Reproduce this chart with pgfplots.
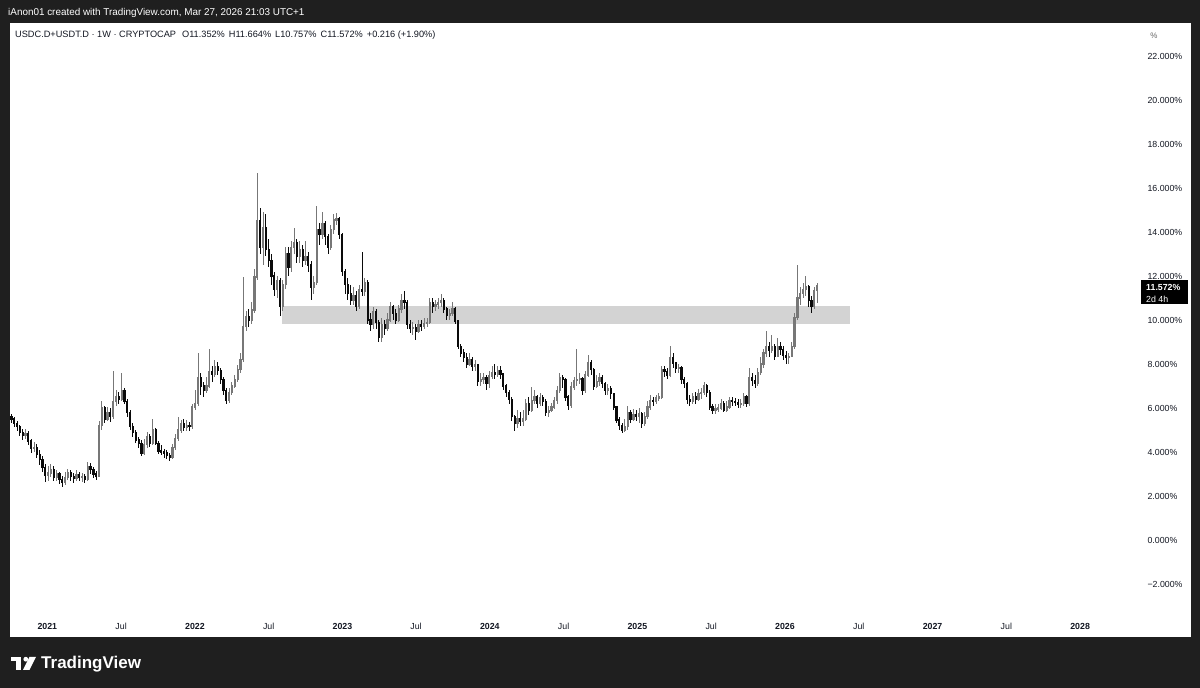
\documentclass[border=0pt]{standalone}
\usepackage{pgfplots}
\usepackage{pgfplotstable}
\pgfplotsset{compat=1.18}
\usepackage{fontspec}
\setmainfont{Liberation Sans}
\definecolor{frame}{HTML}{1F1F1F}
\definecolor{upc}{HTML}{777777}
\definecolor{dnc}{HTML}{0A0A0A}
\definecolor{zone}{HTML}{D3D3D3}
\definecolor{txt}{HTML}{131722}

\pgfplotstableread{
i o h l c
0 5.60 5.75 5.30 5.50
1 5.50 5.60 5.15 5.30
2 5.30 5.40 4.95 5.15
3 5.15 5.25 4.75 4.90
4 4.90 5.05 4.55 4.75
5 4.75 5.05 4.60 4.85
6 4.85 4.95 4.30 4.50
7 4.50 4.60 3.95 4.15
8 4.15 4.45 4.00 4.20
9 4.20 4.35 3.75 3.90
10 3.90 4.10 3.40 3.65
11 3.65 3.80 3.10 3.30
12 3.30 3.45 2.65 2.95
13 2.95 3.35 2.70 3.05
14 3.05 3.45 2.85 3.20
15 3.20 3.35 2.70 2.85
16 2.85 3.20 2.70 3.00
17 3.00 3.10 2.55 2.75
18 2.75 2.90 2.40 2.60
19 2.60 3.10 2.50 2.85
20 2.85 3.25 2.75 3.05
21 3.05 3.20 2.70 2.90
22 2.90 3.05 2.60 2.80
23 2.80 3.20 2.70 2.95
24 2.95 3.10 2.70 2.85
25 2.85 3.05 2.65 2.90
26 2.90 3.00 2.60 2.75
27 2.75 3.55 2.70 3.35
28 3.35 3.50 3.00 3.20
29 3.20 3.30 2.80 3.00
30 3.00 3.15 2.75 2.90
31 2.90 5.40 2.85 5.20
32 5.20 6.30 5.00 6.00
33 6.00 6.10 5.30 5.50
34 5.50 6.05 5.40 5.80
35 5.80 6.00 5.35 5.60
36 5.60 7.70 5.50 6.30
37 6.30 6.80 6.10 6.50
38 6.50 6.75 6.20 6.40
39 6.40 7.60 6.30 6.80
40 6.80 6.90 6.20 6.30
41 6.30 6.40 5.60 5.80
42 5.80 5.90 5.00 5.15
43 5.15 5.30 4.70 4.90
44 4.90 5.00 4.40 4.55
45 4.55 4.70 4.20 4.40
46 4.40 4.55 3.80 3.95
47 3.95 4.60 3.85 4.35
48 4.35 4.90 4.20 4.70
49 4.70 4.80 4.25 4.40
50 4.40 5.50 4.30 5.00
51 5.00 5.10 4.30 4.40
52 4.40 4.50 3.90 4.05
53 4.05 4.30 3.85 4.00
54 4.00 4.15 3.75 3.95
55 3.95 4.10 3.70 3.85
56 3.85 3.95 3.60 3.75
57 3.75 4.35 3.70 4.20
58 4.20 4.80 4.10 4.60
59 4.60 5.60 4.50 5.00
60 5.00 5.45 4.85 5.30
61 5.30 5.50 4.95 5.10
62 5.10 5.45 4.95 5.20
63 5.20 5.35 4.95 5.15
64 5.15 6.20 5.05 6.05
65 6.05 6.80 5.90 6.20
66 6.20 8.50 6.10 7.40
67 7.40 7.60 6.60 7.00
68 7.00 7.20 6.50 6.80
69 6.80 7.40 6.70 7.00
70 7.00 8.70 6.90 7.65
71 7.65 7.90 7.20 7.55
72 7.55 8.20 7.40 7.90
73 7.90 8.10 7.50 7.70
74 7.70 7.80 7.10 7.30
75 7.30 7.40 6.60 6.80
76 6.80 6.90 6.20 6.35
77 6.35 6.90 6.25 6.70
78 6.70 7.20 6.60 7.00
79 7.00 7.50 6.90 7.30
80 7.30 7.95 7.20 7.75
81 7.75 8.50 7.60 8.20
82 8.20 11.97 8.10 9.70
83 9.70 10.40 9.50 10.15
84 10.15 10.50 9.70 10.00
85 10.00 10.80 9.80 10.45
86 10.45 12.30 10.30 11.95
87 11.95 16.70 11.80 14.50
88 14.50 15.10 13.00 13.30
89 13.30 14.90 12.50 14.20
90 14.20 14.80 12.90 13.20
91 13.20 13.70 12.40 12.70
92 12.70 13.00 11.60 12.00
93 12.00 12.20 11.10 11.40
94 11.40 12.00 11.00 11.80
95 11.80 11.90 10.20 10.60
96 10.60 11.80 10.40 11.60
97 11.60 13.30 11.40 13.00
98 13.00 13.30 12.00 12.40
99 12.40 13.60 12.20 13.30
100 13.30 14.20 13.00 13.50
101 13.50 13.70 12.60 12.90
102 12.90 13.60 12.60 13.20
103 13.20 13.40 12.40 12.70
104 12.70 13.60 12.50 12.90
105 12.90 13.10 12.20 12.50
106 12.50 12.70 10.90 11.50
107 11.50 12.00 11.20 11.70
108 11.70 15.20 11.60 14.10
109 14.10 14.40 13.40 13.90
110 13.90 14.90 13.70 14.40
111 14.40 14.50 13.40 13.80
112 13.80 13.90 13.00 13.30
113 13.30 14.30 13.20 14.10
114 14.10 14.80 13.90 14.55
115 14.55 14.85 14.30 14.60
116 14.60 14.70 13.70 13.90
117 13.90 13.95 12.00 12.20
118 12.20 12.30 11.20 11.60
119 11.60 11.90 10.90 11.20
120 11.20 11.60 10.70 10.90
121 10.90 11.50 10.70 11.10
122 11.10 11.30 10.40 10.60
123 10.60 11.60 10.50 11.40
124 11.40 13.10 11.10 11.30
125 11.30 11.90 11.10 11.70
126 11.70 11.80 9.80 10.00
127 10.00 10.30 9.50 9.80
128 9.80 10.60 9.60 10.40
129 10.40 10.50 9.60 9.90
130 9.90 10.00 9.00 9.20
131 9.20 10.10 9.00 9.80
132 9.80 10.00 9.30 9.60
133 9.60 10.30 9.50 10.00
134 10.00 10.80 9.90 10.60
135 10.60 10.70 10.00 10.30
136 10.30 10.50 9.80 10.00
137 10.00 10.70 9.90 10.50
138 10.50 11.20 10.30 10.90
139 10.90 11.30 10.50 10.80
140 10.80 10.90 9.60 9.80
141 9.80 10.00 9.40 9.60
142 9.60 9.90 9.30 9.65
143 9.65 9.80 9.10 9.50
144 9.50 10.00 9.40 9.80
145 9.80 10.00 9.50 9.70
146 9.70 10.10 9.60 9.85
147 9.85 10.10 9.70 9.90
148 9.90 11.00 9.80 10.80
149 10.80 11.00 10.30 10.60
150 10.60 10.90 10.40 10.70
151 10.70 11.00 10.50 10.80
152 10.80 11.20 10.60 10.90
153 10.90 11.00 10.30 10.50
154 10.50 10.60 10.00 10.20
155 10.20 10.50 10.00 10.30
156 10.30 10.80 10.20 10.50
157 10.50 10.60 9.80 9.95
158 9.95 10.00 8.70 8.80
159 8.80 8.90 8.30 8.50
160 8.50 8.70 8.10 8.30
161 8.30 8.50 7.80 8.00
162 8.00 8.50 7.90 8.20
163 8.20 8.30 7.70 7.90
164 7.90 8.20 7.70 7.95
165 7.95 8.00 7.00 7.20
166 7.20 7.60 7.00 7.30
167 7.30 7.60 7.10 7.40
168 7.40 7.50 6.80 7.10
169 7.10 7.70 6.90 7.45
170 7.45 7.90 7.30 7.60
171 7.60 8.00 7.30 7.55
172 7.55 7.90 7.40 7.70
173 7.70 7.90 7.30 7.55
174 7.55 7.60 6.80 7.00
175 7.00 7.10 6.50 6.70
176 6.70 6.80 6.20 6.40
177 6.40 6.50 5.40 5.60
178 5.60 5.70 4.95 5.30
179 5.30 5.90 5.10 5.50
180 5.50 5.80 5.20 5.40
181 5.40 5.90 5.20 5.50
182 5.50 6.40 5.40 6.20
183 6.20 6.50 5.70 5.90
184 5.90 6.97 5.80 6.35
185 6.35 6.80 6.20 6.50
186 6.50 6.60 6.00 6.20
187 6.20 6.70 6.10 6.45
188 6.45 6.60 6.10 6.30
189 6.30 6.40 5.65 5.80
190 5.80 6.10 5.60 5.90
191 5.90 6.25 5.80 6.05
192 6.05 6.50 5.95 6.35
193 6.35 7.00 6.20 6.80
194 6.80 7.60 6.70 7.40
195 7.40 7.50 6.90 7.30
196 7.30 7.35 6.30 6.50
197 6.50 6.60 5.90 6.10
198 6.10 7.20 6.00 6.95
199 6.95 7.40 6.80 7.25
200 7.25 8.70 7.00 7.30
201 7.30 7.60 7.10 7.35
202 7.35 7.40 6.60 6.80
203 6.80 7.70 6.70 7.50
204 7.50 8.40 7.40 8.05
205 8.05 8.20 7.50 7.75
206 7.75 7.80 6.80 7.00
207 7.00 7.50 6.90 7.20
208 7.20 7.60 7.00 7.40
209 7.40 7.50 6.90 7.10
210 7.10 7.20 6.60 6.80
211 6.80 7.10 6.60 6.90
212 6.90 7.00 6.40 6.65
213 6.65 6.70 5.90 6.05
214 6.05 6.10 5.30 5.45
215 5.45 5.60 5.00 5.20
216 5.20 5.30 4.85 5.00
217 5.00 5.50 4.90 5.15
218 5.15 6.10 5.00 5.80
219 5.80 5.90 5.30 5.50
220 5.50 5.95 5.40 5.70
221 5.70 5.90 5.40 5.60
222 5.60 6.00 5.30 5.75
223 5.75 5.80 5.10 5.30
224 5.30 5.80 5.20 5.60
225 5.60 6.30 5.50 6.05
226 6.05 6.60 5.90 6.35
227 6.35 6.50 6.10 6.30
228 6.30 6.60 6.20 6.45
229 6.45 6.70 6.30 6.50
230 6.50 7.90 6.40 7.75
231 7.75 7.90 7.40 7.65
232 7.65 7.80 7.30 7.50
233 7.50 8.80 7.40 8.30
234 8.30 8.50 7.80 8.05
235 8.05 8.10 7.60 7.80
236 7.80 8.00 7.60 7.85
237 7.85 7.90 7.10 7.30
238 7.30 7.40 6.90 7.10
239 7.10 7.20 6.20 6.40
240 6.40 6.60 6.10 6.30
241 6.30 6.70 6.20 6.50
242 6.50 6.75 6.20 6.40
243 6.40 6.85 6.30 6.65
244 6.65 6.90 6.40 6.70
245 6.70 7.20 6.60 7.00
246 7.00 7.10 6.50 6.70
247 6.70 6.80 5.90 6.05
248 6.05 6.20 5.75 5.90
249 5.90 6.20 5.75 5.95
250 5.95 6.20 5.80 6.00
251 6.00 6.40 5.90 6.20
252 6.20 6.30 5.80 5.90
253 5.90 6.30 5.80 6.05
254 6.05 6.50 5.95 6.35
255 6.35 6.50 6.10 6.30
256 6.30 6.45 6.10 6.25
257 6.25 6.40 6.00 6.15
258 6.15 6.40 6.00 6.20
259 6.20 6.70 6.10 6.50
260 6.50 6.60 6.05 6.20
261 6.20 7.80 6.10 7.40
262 7.40 7.60 7.00 7.25
263 7.25 7.50 6.90 7.10
264 7.10 7.80 7.00 7.60
265 7.60 8.30 7.50 8.00
266 8.00 8.70 7.80 8.50
267 8.50 9.50 8.30 8.80
268 8.80 9.00 8.30 8.60
269 8.60 9.30 8.50 8.80
270 8.80 8.90 8.20 8.35
271 8.35 9.20 8.30 8.80
272 8.80 9.00 8.40 8.65
273 8.65 8.80 8.20 8.40
274 8.40 8.60 8.00 8.30
275 8.30 8.50 8.00 8.35
276 8.35 9.00 8.30 8.80
277 8.80 10.30 8.70 10.10
278 10.10 12.50 10.00 11.00
279 11.00 11.50 10.70 11.20
280 11.20 11.70 11.00 11.40
281 11.40 12.00 11.10 11.50
282 11.50 11.60 10.60 10.90
283 10.90 11.10 10.30 10.60
284 10.60 11.50 10.50 11.352
285 11.352 11.664 10.757 11.572
}\candles

\begin{document}
\begin{tikzpicture}
\useasboundingbox (0pt,0pt) rectangle (1200pt,688pt);
\fill[frame] (0pt,0pt) rectangle (1200pt,688pt);
\fill[white] (10pt,51pt) rectangle (1191pt,665pt);
\begin{axis}[
  at={(10pt,78pt)}, anchor=south west,
  scale only axis, width=1125pt, height=587pt,
  xmin=-0.5, xmax=397.4, ymin=-3.18, ymax=23.5,
  axis line style={draw=none}, tick style={draw=none}, major tick length=0pt,
  xtick={12.7,38.8,64.9,91.0,117.1,143.1,169.2,195.3,221.4,247.5,273.6,299.7,325.8,351.9,378.0},
  xticklabels={\textbf{2021},Jul,\textbf{2022},Jul,\textbf{2023},Jul,\textbf{2024},Jul,\textbf{2025},Jul,\textbf{2026},Jul,\textbf{2027},Jul,\textbf{2028}},
  ytick={-2,0,2,4,6,8,10,12,14,16,18,20,22},
  yticklabels={−2.000\%,0.000\%,2.000\%,4.000\%,6.000\%,8.000\%,10.000\%,12.000\%,14.000\%,16.000\%,18.000\%,20.000\%,22.000\%},
  yticklabel pos=right,
  tick label style={font=\fontsize{8.8}{10}\selectfont, text=txt},
  xticklabel style={anchor=base, yshift=-20pt},
  yticklabel style={anchor=west, xshift=9pt},
  candle/.style={draw=none, mark=none, forget plot,
    error bars/y dir=both, error bars/y explicit, error bars/error mark=none},
]
\addplot[draw=none, fill=zone] coordinates {(95.7,9.82) (95.7,10.64) (296.6,10.64) (296.6,9.82)};
% up wicks
\addplot[candle, restrict expr to domain={\thisrow{c}-\thisrow{o}}{0:100},
  error bars/error bar style={draw=upc, line width=1pt}]
  table[x=i, y expr={(\thisrow{h}+\thisrow{l})/2}, y error expr={(\thisrow{h}-\thisrow{l})/2}] {\candles};
% up bodies
\addplot[candle, restrict expr to domain={\thisrow{c}-\thisrow{o}}{0:100},
  error bars/error bar style={draw=upc, line width=2.2pt}]
  table[x=i, y expr={(\thisrow{o}+\thisrow{c})/2}, y error expr={abs(\thisrow{c}-\thisrow{o})/2+0.03}] {\candles};
% down wicks
\addplot[candle, restrict expr to domain={\thisrow{c}-\thisrow{o}}{-100:-0.0001},
  error bars/error bar style={draw=dnc, line width=1pt}]
  table[x=i, y expr={(\thisrow{h}+\thisrow{l})/2}, y error expr={(\thisrow{h}-\thisrow{l})/2}] {\candles};
% down bodies
\addplot[candle, restrict expr to domain={\thisrow{c}-\thisrow{o}}{-100:-0.0001},
  error bars/error bar style={draw=dnc, line width=2.2pt}]
  table[x=i, y expr={(\thisrow{o}+\thisrow{c})/2}, y error expr={abs(\thisrow{c}-\thisrow{o})/2+0.03}] {\candles};
\end{axis}
% header
\node[anchor=west, inner sep=0pt, text=white, font=\fontsize{9.9}{11}\selectfont] at (8pt,675pt)
  {iAnon01 created with TradingView.com, Mar 27, 2026 21:03 UTC+1};
\node[anchor=west, inner sep=0pt, text=txt, font=\fontsize{9.2}{10}\selectfont] at (15pt,653pt)
  {USDC.D+USDT.D · 1W · CRYPTOCAP\hspace{6pt}O11.352\%\hspace{4pt}H11.664\%\hspace{4pt}L10.757\%\hspace{4pt}C11.572\%\hspace{4pt}+0.216 (+1.90\%)};
\node[anchor=center, inner sep=0pt, text=black!60, font=\fontsize{8}{9}\selectfont] at (1154pt,652pt) {\%};
% last price label
\fill[black] (1141pt,384pt) rectangle (1188pt,408pt);
\node[anchor=west, inner sep=0pt, text=white, font=\bfseries\fontsize{8.8}{10}\selectfont] at (1146pt,401pt) {11.572\%};
\node[anchor=west, inner sep=0pt, text=white, font=\fontsize{8.8}{10}\selectfont] at (1146pt,389pt) {2d 4h};
% footer logo
\fill[white] (11pt,31pt) rectangle (21pt,27pt);
\fill[white] (16pt,31pt) rectangle (21pt,18pt);
\fill[white] (25.8pt,28.8pt) circle (2.4pt);
\fill[white] (29.5pt,31pt) -- (36pt,31pt) -- (29.5pt,18pt) -- (23pt,18pt) -- cycle;
\node[anchor=base west, inner sep=0pt, text=white, font=\bfseries\fontsize{17}{19}\selectfont] at (41pt,19pt) {TradingView};
\end{tikzpicture}
\end{document}
